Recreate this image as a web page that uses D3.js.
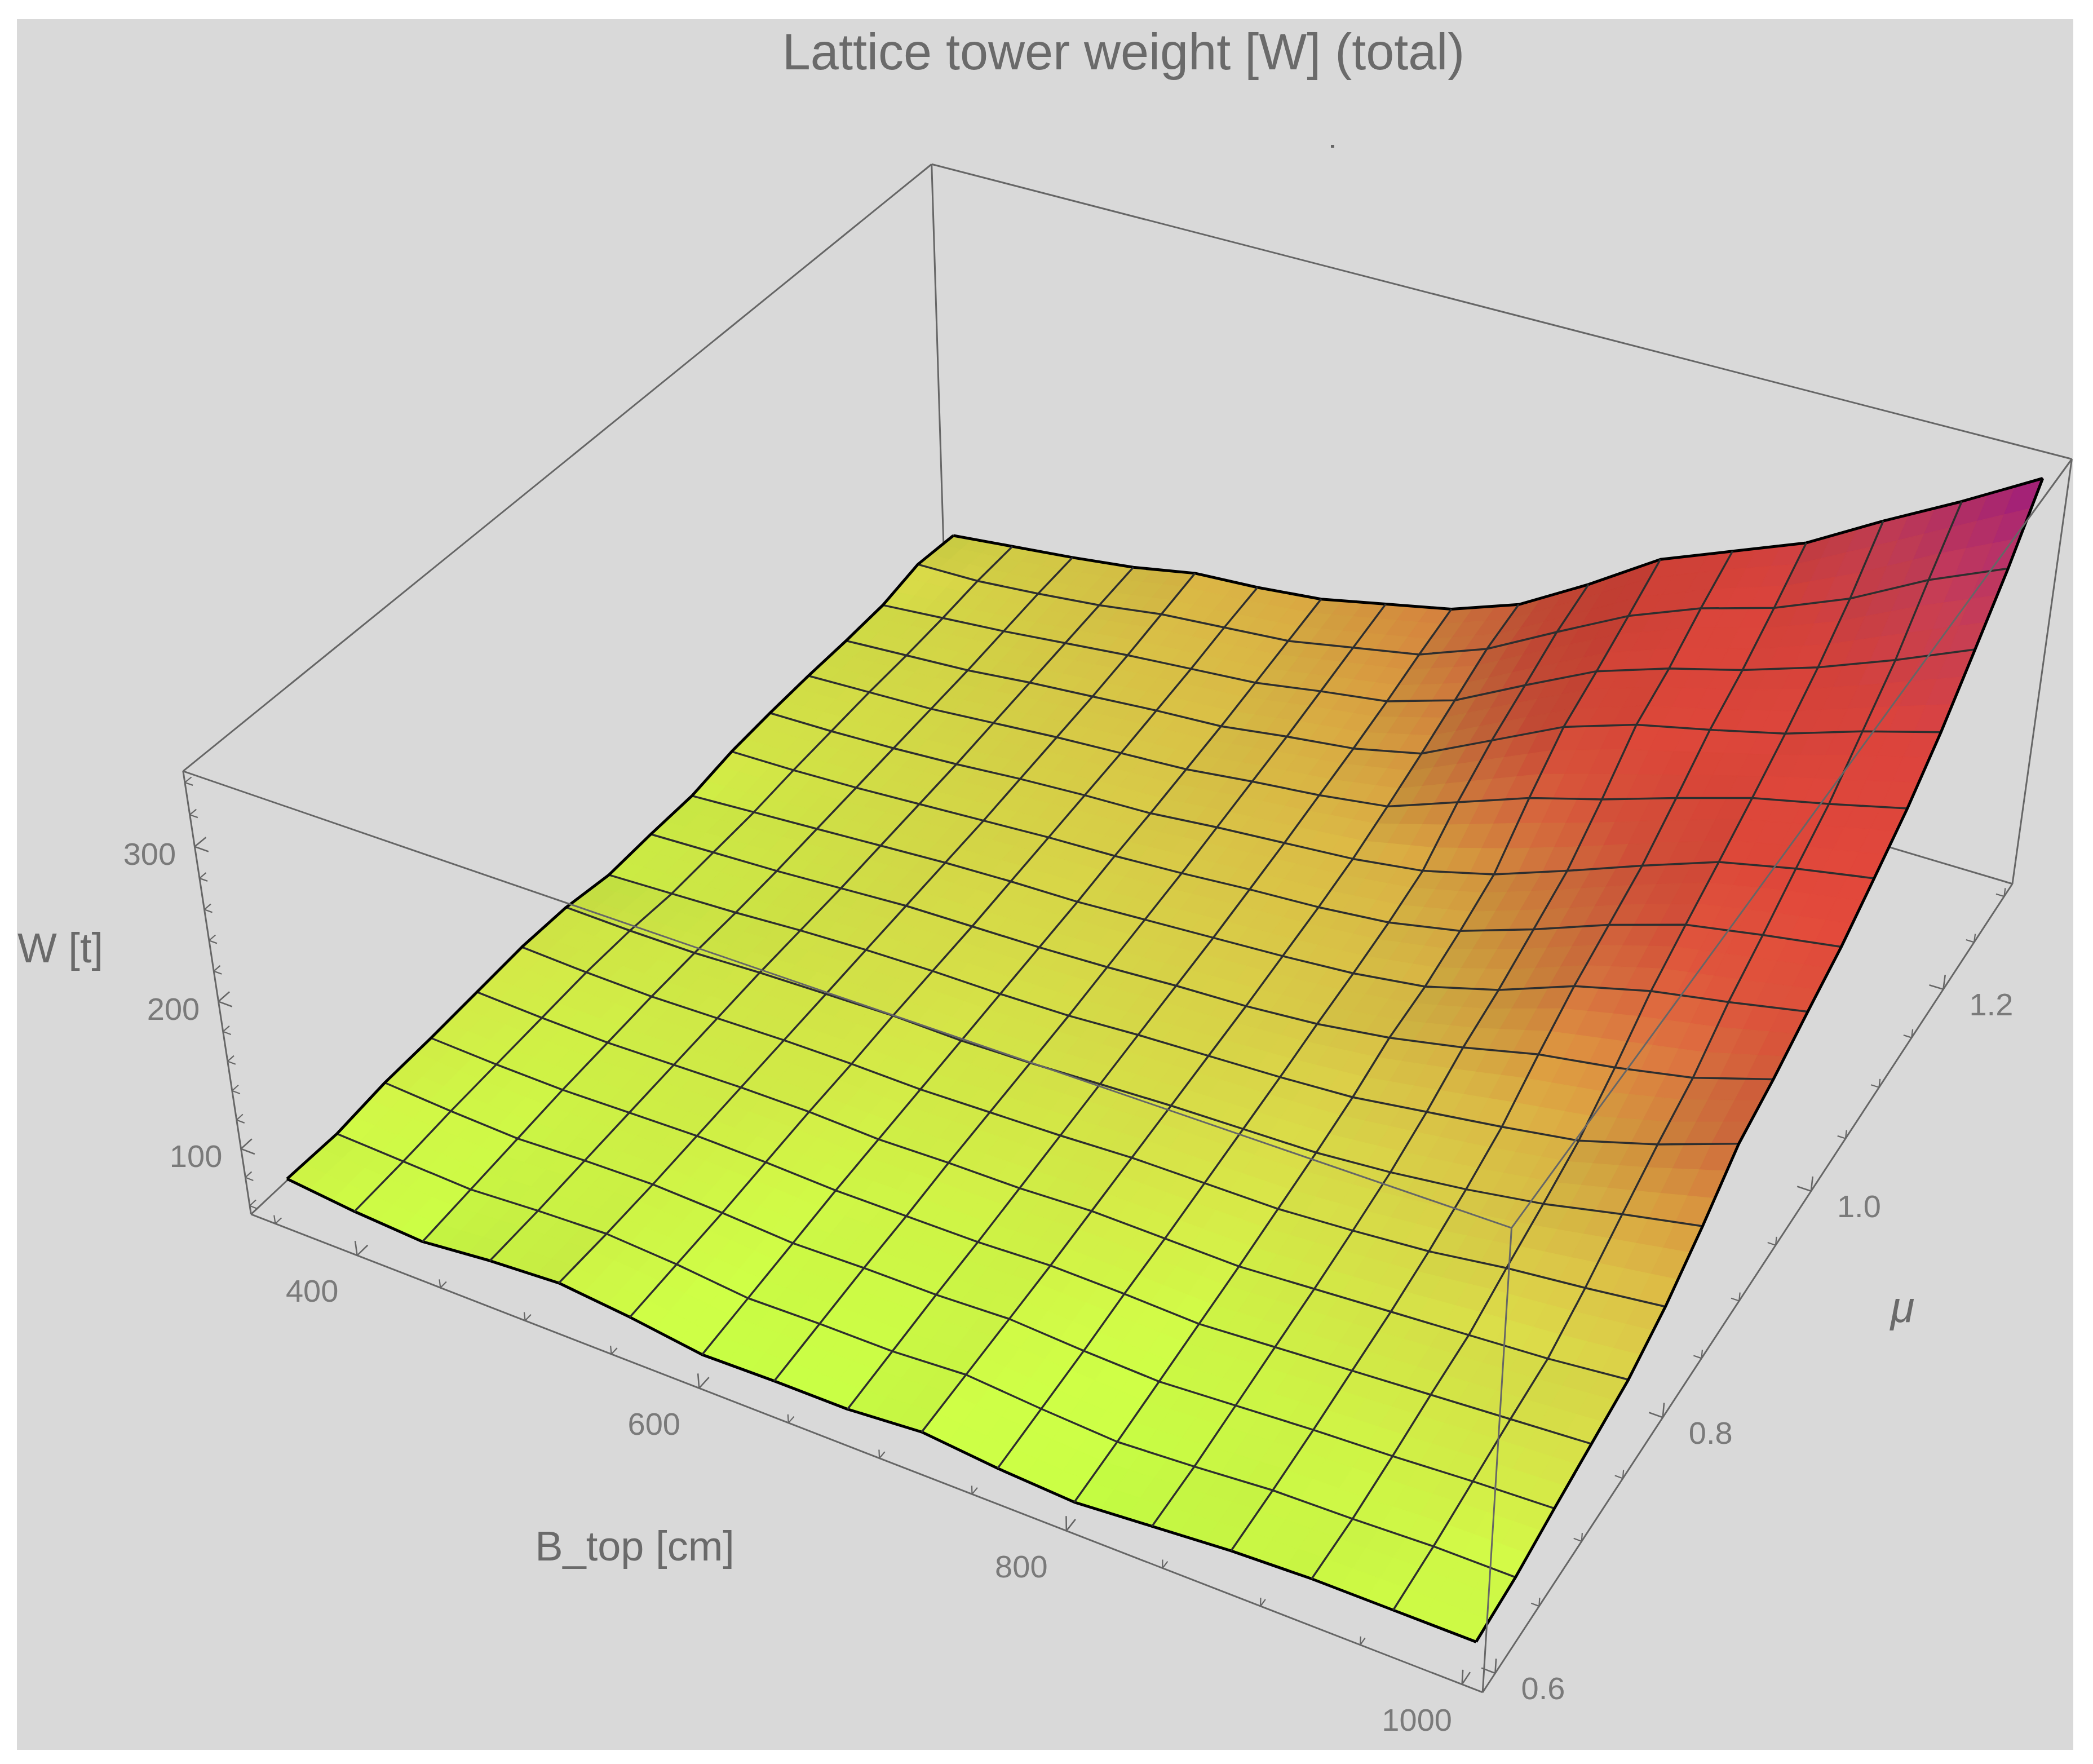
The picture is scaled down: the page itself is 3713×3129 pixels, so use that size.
<!DOCTYPE html>
<html>
<head>
<meta charset="utf-8">
<title>Lattice tower weight</title>
<script src="https://cdn.jsdelivr.net/npm/d3@7/dist/d3.min.js"></script>
<style>
  html, body { margin: 0; padding: 0; background: #fff; }
  svg { display: block; }
  text { font-family: "Liberation Sans", Arial, sans-serif; }
</style>
</head>
<body>
<div id="chart"></div>
<script>
const width = 3713;
const height = 3129;

// surface grid: B_top along columns, mu along rows
const bTop = [350, 390.6, 431.3, 471.9, 512.5, 553.1, 593.8, 634.4, 675, 715.6, 756.3, 796.9, 837.5, 878.1, 918.8, 959.4, 1000];
const mu = [0.6, 0.644, 0.688, 0.731, 0.775, 0.819, 0.863, 0.906, 0.95, 0.994, 1.038, 1.081, 1.125, 1.169, 1.213, 1.256, 1.3];

// weight[j][i] -> W [t] at mu[j], bTop[i]
const weight = [
  [75, 70, 67, 72, 75, 70, 63, 64, 64, 68, 63, 60, 64, 68, 70, 70, 70],
  [74, 72, 70, 73, 75, 72, 67, 68, 68, 71, 67, 64, 67, 71, 72, 74, 74],
  [78, 75, 73, 75, 76, 74, 71, 72, 72, 74, 71, 69, 72, 75, 77, 80, 82],
  [79, 77, 76, 77, 78, 77, 75, 75, 75, 77, 76, 74, 77, 80, 83, 86, 89],
  [81, 79, 78, 79, 80, 80, 78, 79, 79, 81, 80, 79, 82, 85, 88, 91, 96],
  [83, 81, 80, 81, 82, 82, 81, 82, 83, 85, 85, 85, 88, 92, 99, 104, 110],
  [82, 81, 81, 83, 84, 85, 84, 85, 87, 89, 90, 91, 95, 101, 109, 120, 130],
  [77, 79, 81, 84, 86, 87, 87, 88, 91, 93, 95, 98, 105, 112, 120, 135, 153],
  [78, 80, 82, 85, 88, 89, 90, 92, 95, 97, 101, 108, 118, 130, 138, 148, 164],
  [78, 81, 84, 87, 90, 92, 93, 96, 99, 102, 106, 113, 127, 146, 159, 168, 178],
  [83, 84, 86, 89, 92, 95, 97, 100, 104, 107, 112, 122, 139, 158, 174, 183, 191],
  [85, 86, 88, 91, 95, 98, 100, 105, 109, 113, 120, 133, 151, 170, 188, 199, 208],
  [86, 88, 90, 94, 98, 101, 104, 110, 115, 122, 140, 158, 172, 188, 203, 214, 226],
  [86, 89, 92, 97, 101, 105, 108, 115, 121, 132, 156, 180, 196, 207, 219, 235, 249],
  [87, 91, 95, 100, 105, 109, 113, 121, 128, 143, 168, 192, 208, 221, 237, 256, 277],
  [93, 94, 98, 103, 110, 114, 118, 127, 136, 154, 180, 205, 224, 238, 258, 284, 305],
  [90, 95, 100, 106, 115, 118, 123, 133, 143, 160, 188, 219, 238, 257, 285, 311, 339]
];

const bTicks = [400, 600, 800, 1000];
const bMinor = [350, 450, 500, 550, 650, 700, 750, 850, 900, 950];
const muTicks = [0.6, 0.8, 1.0, 1.2];
const muMinor = [0.65, 0.7, 0.75, 0.85, 0.9, 0.95, 1.05, 1.1, 1.15, 1.25, 1.3];
const wTicks = [100, 200, 300];
const wMinor = [60, 80, 120, 140, 160, 180, 220, 240, 260, 280, 320, 340];

// colour by height
const colorStops = [60, 75, 88, 100, 115, 130, 150, 170, 195, 240, 280, 310, 340];
const colorHex = ["#c2fc42", "#caf044", "#d2da46", "#d6c846", "#d8b444", "#da9a40", "#dc7440", "#de553c", "#e0483a", "#e2463e", "#d8445a", "#c63472", "#b01e90"];

const xs = d3.scaleLinear().domain([335, 1010]).range([0, 1]);
const ys = d3.scaleLinear().domain([0.586, 1.314]).range([0, 1]);
const zs = d3.scaleLinear().domain([54, 347]).range([0, 1]);
const color = d3.scaleLinear().domain(colorStops).range(colorHex).interpolate(d3.interpolateRgb).clamp(true);

// camera: 3x4 projection fitted to the box corners
const boxCorners = [
  { p: [0, 0, 0], s: [445, 2153] },
  { p: [1, 0, 0], s: [2628, 3003] },
  { p: [1, 1, 0], s: [3572, 1562] },
  { p: [0, 1, 0], s: [1676, 1060], wt: 0.3 },
  { p: [0, 0, 1], s: [326, 1366] },
  { p: [1, 0, 1], s: [2683, 2180] },
  { p: [1, 1, 1], s: [3674, 818] },
  { p: [0, 1, 1], s: [1652, 288] }
];
const cx = 2000, cy = 1600, sc = 1000;

function fitCamera(pts) {
  const rows = [], rhs = [];
  pts.forEach(({ p, s, wt = 1 }) => {
    const [u, v, w] = p;
    const x = (s[0] - cx) / sc, y = (s[1] - cy) / sc;
    rows.push([u, v, w, 1, 0, 0, 0, 0, -x * u, -x * v, -x * w].map(d => d * wt));
    rhs.push(x * wt);
    rows.push([0, 0, 0, 0, u, v, w, 1, -y * u, -y * v, -y * w].map(d => d * wt));
    rhs.push(y * wt);
  });
  const n = 11;
  const m = d3.range(n).map(r => {
    const row = d3.range(n).map(c => d3.sum(rows, a => a[r] * a[c]));
    row.push(d3.sum(rows, (a, k) => a[r] * rhs[k]));
    return row;
  });
  for (let c = 0; c < n; c++) {
    let piv = c;
    for (let r = c + 1; r < n; r++) if (Math.abs(m[r][c]) > Math.abs(m[piv][c])) piv = r;
    [m[c], m[piv]] = [m[piv], m[c]];
    for (let r = 0; r < n; r++) {
      if (r === c) continue;
      const f = m[r][c] / m[c][c];
      for (let k = c; k <= n; k++) m[r][k] -= f * m[c][k];
    }
  }
  return m.map((row, i) => row[n] / row[i]).concat([1]);
}
const P = fitCamera(boxCorners);

function project(u, v, w) {
  const hx = P[0] * u + P[1] * v + P[2] * w + P[3];
  const hy = P[4] * u + P[5] * v + P[6] * w + P[7];
  const hz = P[8] * u + P[9] * v + P[10] * w + P[11];
  return [cx + sc * hx / hz, cy + sc * hy / hz, hz];
}
const toScreen = (B, M, W) => project(xs(B), ys(M), zs(W));
const farSign = Math.sign(project(0, 1, 0)[2] - project(1, 0, 1)[2]);

const svg = d3.select("#chart").append("svg")
  .attr("width", width)
  .attr("height", height);

svg.append("rect")
  .attr("x", 30).attr("y", 34)
  .attr("width", 3648).attr("height", 3070)
  .attr("fill", "#d9d9d9");

const line = d3.line();
const boxColor = "#666";

const cube = [[0,0,0],[1,0,0],[1,1,0],[0,1,0],[0,0,1],[1,0,1],[1,1,1],[0,1,1]];
const backEdges = [[3, 0], [3, 2], [3, 7]];
const frontEdges = [[0, 1], [1, 2], [0, 4], [1, 5], [2, 6], [4, 5], [5, 6], [6, 7], [4, 7]];

function drawEdges(g, edges) {
  g.selectAll("path")
    .data(edges)
    .enter()
    .append("path")
    .attr("d", e => line(e.map(k => project(...cube[k]))))
    .attr("fill", "none")
    .attr("stroke", boxColor)
    .attr("stroke-width", 3);
}

drawEdges(svg.append("g"), backEdges);

// surface patches, each cell split for smooth colour
const nSub = 3;
const light = (() => { const l = [0.35, -0.55, 1]; const n = Math.hypot(...l); return l.map(d => d / n); })();
const flatLight = light[2];
const patches = [];
for (let j = 0; j < mu.length - 1; j++) {
  for (let i = 0; i < bTop.length - 1; i++) {
    for (let a = 0; a < nSub; a++) {
      for (let b = 0; b < nSub; b++) {
        const pts = [[a, b], [a + 1, b], [a + 1, b + 1], [a, b + 1]].map(([sa, tb]) => {
          const s = sa / nSub, t = tb / nSub;
          const B = bTop[i] + (bTop[i + 1] - bTop[i]) * s;
          const M = mu[j] + (mu[j + 1] - mu[j]) * t;
          const W = (1 - s) * (1 - t) * weight[j][i] + s * (1 - t) * weight[j][i + 1]
            + s * t * weight[j + 1][i + 1] + (1 - s) * t * weight[j + 1][i];
          return { B, M, W };
        });
        const box = pts.map(p => [xs(p.B), ys(p.M), 0.6 * zs(p.W)]);
        const d1 = box[2].map((d, k) => d - box[0][k]);
        const d2 = box[3].map((d, k) => d - box[1][k]);
        const nrm = [d1[1] * d2[2] - d1[2] * d2[1], d1[2] * d2[0] - d1[0] * d2[2], d1[0] * d2[1] - d1[1] * d2[0]];
        const len = Math.hypot(...nrm);
        const dot = (nrm[0] * light[0] + nrm[1] * light[1] + nrm[2] * light[2]) / len * Math.sign(nrm[2]);
        const scr = pts.map(p => toScreen(p.B, p.M, p.W));
        const c = d3.rgb(color(d3.mean(pts, p => p.W)));
        const f = Math.max(0.86, 1 + 0.5 * (dot - flatLight));
        const fill = d3.rgb(Math.min(255, c.r * f), Math.min(255, c.g * f), Math.min(255, c.b * f)).formatHex();
        patches.push({ scr, fill, depth: farSign * d3.mean(scr, p => p[2]) });
      }
    }
  }
}
patches.sort((p, q) => q.depth - p.depth);

svg.append("g")
  .selectAll("path")
  .data(patches)
  .enter()
  .append("path")
  .attr("d", p => line(p.scr.map(d => [d[0], d[1]])) + "Z")
  .attr("fill", p => p.fill)
  .attr("stroke", p => p.fill)
  .attr("stroke-width", 1.5)
  .attr("stroke-linejoin", "round");

// mesh lines
const meshRows = mu.map((m, j) => bTop.map((b, i) => toScreen(b, m, weight[j][i])));
const meshCols = bTop.map((b, i) => mu.map((m, j) => toScreen(b, m, weight[j][i])));
const mesh = svg.append("g").attr("fill", "none").attr("stroke-linejoin", "round");
mesh.selectAll(".row")
  .data(meshRows)
  .enter()
  .append("path")
  .attr("d", pts => line(pts.map(d => [d[0], d[1]])))
  .attr("stroke", (d, j) => (j === 0 || j === mu.length - 1) ? "#000" : "#2e2e2e")
  .attr("stroke-width", (d, j) => (j === 0 || j === mu.length - 1) ? 5 : 3.5);
mesh.selectAll(".col")
  .data(meshCols)
  .enter()
  .append("path")
  .attr("d", pts => line(pts.map(d => [d[0], d[1]])))
  .attr("stroke", (d, i) => (i === 0 || i === bTop.length - 1) ? "#000" : "#2e2e2e")
  .attr("stroke-width", (d, i) => (i === 0 || i === bTop.length - 1) ? 5 : 3.5);

drawEdges(svg.append("g"), frontEdges);

// ticks: two short strokes per tick, into the box
function tickPath(p, dirs, len) {
  const a = project(...p);
  return dirs.map(dir => {
    const q = project(p[0] + 0.01 * dir[0], p[1] + 0.01 * dir[1], p[2] + 0.01 * dir[2]);
    const dx = q[0] - a[0], dy = q[1] - a[1], n = Math.hypot(dx, dy);
    return `M${a[0]},${a[1]}L${a[0] + dx / n * len},${a[1] + dy / n * len}`;
  }).join("");
}
const axes = [
  { major: bTicks, minor: bMinor, pos: t => [xs(t), 0, 0], dirs: [[0, 1, 0], [0, 0, 1]],
    fmt: d => d, off: [-80, 63] },
  { major: muTicks, minor: muMinor, pos: t => [1, ys(t), 0], dirs: [[-1, 0, 0], [0, 0, 1]],
    fmt: d3.format(".1f"), off: [85, 27] },
  { major: wTicks, minor: wMinor, pos: t => [0, 0, zs(t)], dirs: [[1, 0, 0], [0, 1, 0]],
    fmt: d => d, off: [-80, 13] }
];
const tickG = svg.append("g").attr("stroke", boxColor).attr("fill", "none");
axes.forEach(ax => {
  tickG.append("g").selectAll("path").data(ax.major).enter().append("path")
    .attr("d", t => tickPath(ax.pos(t), ax.dirs, 26)).attr("stroke-width", 2.6);
  tickG.append("g").selectAll("path").data(ax.minor).enter().append("path")
    .attr("d", t => tickPath(ax.pos(t), ax.dirs, 15)).attr("stroke-width", 2.2);
  svg.append("g").selectAll("text").data(ax.major).enter().append("text")
    .attr("x", t => project(...ax.pos(t))[0] + ax.off[0])
    .attr("y", t => project(...ax.pos(t))[1] + ax.off[1])
    .attr("text-anchor", "middle")
    .attr("dominant-baseline", "central")
    .attr("font-size", 56)
    .attr("fill", "#7a7a7a")
    .text(ax.fmt);
});

// labels
svg.append("text").attr("x", 1993).attr("y", 123).attr("text-anchor", "middle")
  .attr("font-size", 90).attr("fill", "#6a6a6a").text("Lattice tower weight [W] (total)");
svg.append("text").attr("x", 1126).attr("y", 2768).attr("text-anchor", "middle")
  .attr("font-size", 74).attr("fill", "#6a6a6a").text("B_top [cm]");
svg.append("text").attr("x", 107).attr("y", 1707).attr("text-anchor", "middle")
  .attr("font-size", 74).attr("fill", "#6a6a6a").text("W [t]");
svg.append("text").attr("x", 3375).attr("y", 2345).attr("text-anchor", "middle")
  .attr("font-size", 78).attr("font-style", "italic").attr("fill", "#6a6a6a").text("\u03bc");
svg.append("rect").attr("x", 2361).attr("y", 257).attr("width", 6).attr("height", 5).attr("fill", "#666");
</script>
</body>
</html>
